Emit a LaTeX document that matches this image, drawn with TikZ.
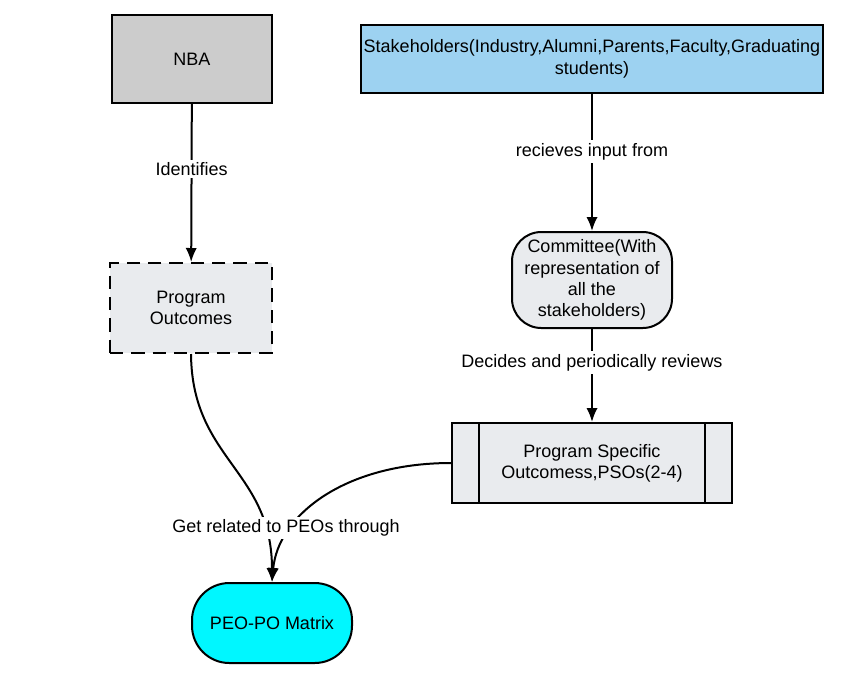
\documentclass[tikz,border=0pt]{standalone}
\usepackage{fontspec}
\setmainfont{Liberation Sans}
\usetikzlibrary{arrows.meta}
\definecolor{nbagray}{HTML}{CCCCCC}
\definecolor{stakeblue}{HTML}{9DD2F1}
\definecolor{boxgray}{HTML}{E9EBEE}
\definecolor{matrixcyan}{HTML}{00F7FF}
\tikzset{
  box/.style={draw, line width=1.5pt, align=center, inner sep=2pt},
  link/.style={line width=1.5pt, -{Latex[length=10.5pt,width=8.5pt]}},
  lbl/.style={fill=white, inner sep=2pt}
}
\begin{document}
\begin{tikzpicture}[x=0.75pt,y=-0.75pt]
\fontsize{13.5}{16}\selectfont
\useasboundingbox (0,0) rectangle (860,676);

\node[box, fill=nbagray, minimum width=120pt, minimum height=66pt] (nba) at (192,59) {NBA};
\node[box, fill=stakeblue, minimum width=345pt, minimum height=51pt] (stake) at (592,59)
  {Stakeholders(Industry,Alumni,Parents,Faculty,Graduating\\students)};
\node[box, fill=boxgray, dash pattern=on 10pt off 6pt, minimum width=121.5pt, minimum height=67.5pt] (po) at (191,308)
  {Program\\Outcomes};
\node[box, fill=boxgray, rounded corners=22pt, minimum width=120pt, minimum height=72pt] (comm) at (592,280)
  {Committee(With\\representation of\\all the\\stakeholders)};
\node[box, fill=boxgray, minimum width=210pt, minimum height=60pt] (pso) at (592,463)
  {Program Specific\\Outcomess,PSOs(2-4)};
\draw[line width=1.5pt] ([xshift=21pt]pso.north west) -- ([xshift=21pt]pso.south west);
\draw[line width=1.5pt] ([xshift=-21pt]pso.north east) -- ([xshift=-21pt]pso.south east);
\node[box, fill=matrixcyan, rounded corners=28pt, minimum width=120pt, minimum height=60pt] (peo) at (272,623)
  {PEO-PO Matrix};

\draw[link] (nba) -- node[lbl, pos=0.41] {Identifies} (po);
\draw[link] (stake) -- node[lbl, pos=0.42] {recieves input from} (comm);
\draw[link] (comm) -- node[lbl, pos=0.36] {Decides and periodically reviews} (pso);
\draw[link] (po.south) .. controls (192,460) and (272,470) .. (peo.north);
\draw[link] (pso.west) .. controls (345,463) and (278,515) .. (peo.north);
\node[lbl] (rel) at (286,528) {Get related to PEOs through};
\end{tikzpicture}
\end{document}
